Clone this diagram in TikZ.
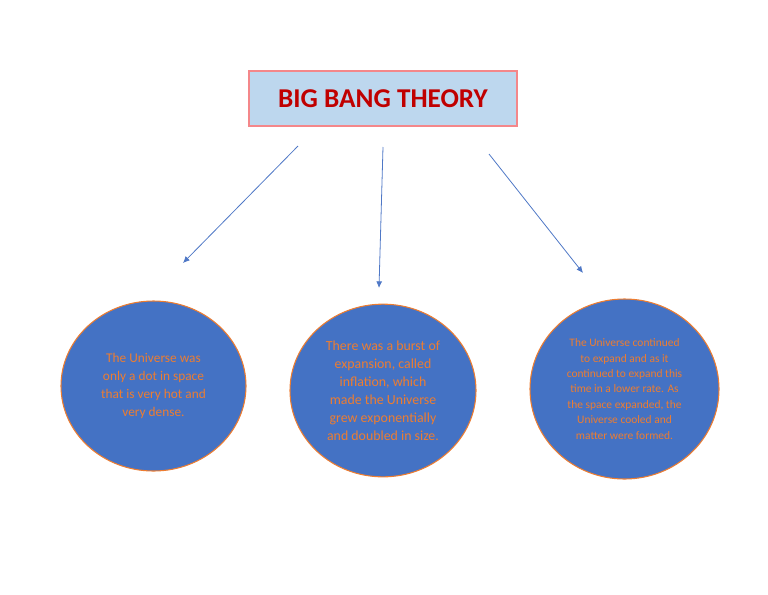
\documentclass[tikz,border=0pt]{standalone}
\usepackage{fontspec}
\setmainfont{Carlito}
\usetikzlibrary{shapes.geometric,arrows.meta}
\definecolor{titlered}{HTML}{C00000}
\definecolor{titlefill}{HTML}{BDD7EE}
\definecolor{titleedge}{HTML}{F4878A}
\definecolor{bubblefill}{HTML}{4472C4}
\definecolor{bubbleedge}{HTML}{ED7D31}
\definecolor{linkblue}{HTML}{4F78C6}

\begin{document}
\begin{tikzpicture}[y=0.75pt, x=0.75pt, yscale=-1,
  bubble/.style={ellipse, draw=bubbleedge, line width=0.8pt, fill=bubblefill,
    text=bubbleedge, align=center, inner sep=0pt},
  link/.style={-{Latex[length=5pt,width=4.5pt]}, draw=linkblue, line width=0.6pt}]
  \useasboundingbox (0,0) rectangle (768,594);

  % title
  \node[draw=titleedge, line width=1.2pt, fill=titlefill, minimum width=201pt,
    minimum height=41pt, text=titlered, font=\bfseries\fontsize{20.4}{22}\selectfont]
    (title) at (383,98.5) {BIG BANG THEORY};

  % the three stages
  \node[bubble, minimum width=138.75pt, minimum height=127.5pt,
    font=\fontsize{10}{13.5}\selectfont] (dot) at (153.5,386)
    {The Universe was\\only a dot in space\\that is very hot and\\very dense.};
  \node[bubble, minimum width=139.5pt, minimum height=129.5pt,
    font=\fontsize{10.4}{13.5}\selectfont] (inflation) at (383,390.5)
    {There was a burst of\\expansion, called\\inflation, which\\made the Universe\\grew exponentially\\and doubled in size.};
  \node[bubble, minimum width=141.75pt, minimum height=135pt,
    font=\fontsize{8.6}{11.6}\selectfont] (cooling) at (624.5,389)
    {The Universe continued\\to expand and as it\\continued to expand this\\time in a lower rate. As\\the space expanded, the\\Universe cooled and\\matter were formed.};

  % arrows
  \coordinate (dotfrom) at (298,146);
  \coordinate (dotto) at (183,263);
  \coordinate (inflfrom) at (383,147);
  \coordinate (inflto) at (379,288);
  \coordinate (coolfrom) at (489,154);
  \coordinate (coolto) at (583,273);
  \draw[link] (dotfrom) -- (dotto);
  \draw[link] (inflfrom) -- (inflto);
  \draw[link] (coolfrom) -- (coolto);
\end{tikzpicture}
\end{document}
